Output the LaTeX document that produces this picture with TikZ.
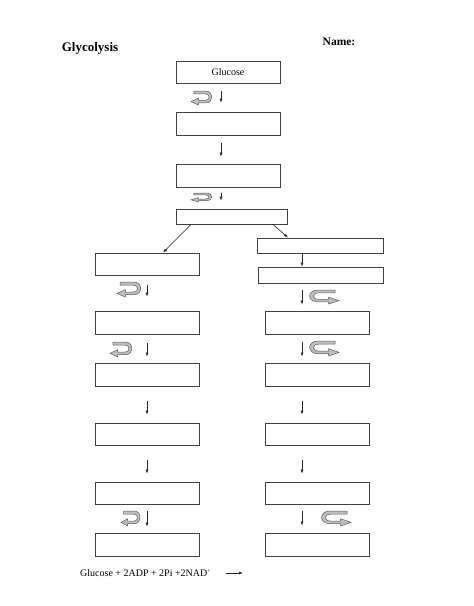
\documentclass[tikz,border=0pt]{standalone}
\usepackage{fontspec}
\setmainfont{Liberation Serif}
\usetikzlibrary{positioning, calc, arrows.meta}

\tikzset{
  uturn/.pic={
    \draw[turnline] (3,0) -- (16,0) .. controls (25,0) and (25,14) .. (16,14)
      -- (8,14) -- (8,16.5) -- (0,12.5) -- (8,8.5) -- (8,11) -- (16,11)
      .. controls (21,11) and (21,3.5) .. (16,3.5) -- (3,3.5) -- cycle;
  }
}

\begin{document}
\begin{tikzpicture}[x=1pt, y=-1pt, >={Latex[length=4pt,width=3pt]}]
        \tikzstyle{box}=[draw=black!75, line width=.8pt, rectangle, minimum width=104pt, minimum height=23pt, inner sep=0pt];
        \tikzstyle{flow}=[->, black!85, line width=.6pt];
        \tikzstyle{turnline}=[draw=black!65, fill=black!25, line width=.5pt];
        \useasboundingbox (0,0) rectangle (474,606);

        \node[font=\bfseries\fontsize{13}{15}\selectfont] (title) at (90,48) {Glycolysis};
        \node[font=\bfseries\fontsize{11.5}{14}\selectfont] (name) at (339,42) {Name:};

        \node[box, minimum height=22pt] (glc) at (228,72) {Glucose};
        \node[box] (s2) at (228,123.5) {};
        \node[box] (s3) at (228,175.5) {};
        \node[box, minimum width=111pt, minimum height=15pt] (s4) at (231.5,216.5) {};

        \node[box, minimum height=22pt] (l1) at (147,264) {};
        \node[box] (l2) at (147,322.5) {};
        \node[box] (l3) at (147,374.5) {};
        \node[box, minimum height=22pt] (l4) at (147,434) {};
        \node[box, minimum height=22pt] (l5) at (147,493) {};
        \node[box] (l6) at (147,544.5) {};

        \node[box, minimum width=126pt, minimum height=15pt] (r1) at (320,245.5) {};
        \node[box, minimum width=125pt, minimum height=16pt] (r2) at (320.5,275) {};
        \node[box] (r3) at (317,322.5) {};
        \node[box] (r4) at (317,374.5) {};
        \node[box, minimum height=22pt] (r5) at (317,434) {};
        \node[box, minimum height=22pt] (r6) at (317,493) {};
        \node[box] (r7) at (317,544.5) {};

        \node[anchor=west, inner sep=0pt] (eq) at (80,573) {Glucose + 2ADP + 2Pi +2NAD\textsuperscript{\tiny +}};
        \coordinate (prod) at (243,573);

        % main column
        \draw[flow, shorten <=8pt, shorten >=9pt] ([xshift=-7pt]glc.south) -- ([xshift=-7pt]s2.north);
        \draw[flow, shorten <=8pt, shorten >=7pt] ([xshift=-7pt]s2.south) -- ([xshift=-7pt]s3.north);
        \draw[flow, shorten <=6pt, shorten >=8pt] ([xshift=-7pt]s3.south) -- ([xshift=-7pt]s3.south |- s4.north);
        \pic[xscale=22/24, yscale=14/16.5] at (191,91) {uturn};
        \pic[xscale=22/24, yscale=9/16.5] at (191,193) {uturn};

        % split
        \draw[flow] ([xshift=-40.5pt]s4.south) -- ([xshift=16pt]l1.north);
        \draw[flow] ([xshift=41.5pt]s4.south) -- ([xshift=-32pt]r1.north);
        \draw[flow] ([xshift=-18pt]r1.south) -- ([xshift=-18.5pt]r2.north);

        % left branch
        \draw[flow, shorten <=10pt, shorten >=14pt] (l1) -- (l2);
        \draw[flow, shorten <=9pt, shorten >=6pt] (l2) -- (l3);
        \draw[flow, shorten <=15pt, shorten >=8pt] (l3) -- (l4);
        \draw[flow, shorten <=15pt, shorten >=8pt] (l4) -- (l5);
        \draw[flow, shorten <=7pt, shorten >=6pt] (l5) -- (l6);
        \pic[xscale=25/24, yscale=15/16.5] at (117,282) {uturn};
        \pic[xscale=23/24, yscale=15/16.5] at (110,342) {uturn};
        \pic[xscale=20/24, yscale=15/16.5] at (121,511) {uturn};

        % right branch
        \draw[flow, shorten <=7pt, shorten >=6pt] ([xshift=-15pt]r2.south -| r3) -- ([xshift=-15pt]r3.north);
        \draw[flow, shorten <=8pt, shorten >=6pt] ([xshift=-15pt]r3.south) -- ([xshift=-15pt]r4.north);
        \draw[flow, shorten <=15pt, shorten >=8pt] ([xshift=-15pt]r4.south) -- ([xshift=-15pt]r5.north);
        \draw[flow, shorten <=15pt, shorten >=8pt] ([xshift=-15pt]r5.south) -- ([xshift=-15pt]r6.north);
        \draw[flow, shorten <=7pt, shorten >=7pt] ([xshift=-15pt]r6.south) -- ([xshift=-15pt]r7.north);
        \pic[xscale=-31/24, yscale=14/16.5] at (339,290) {uturn};
        \pic[xscale=-31/24, yscale=15/16.5] at (339,341) {uturn};
        \pic[xscale=-31/24, yscale=15/16.5] at (351,511) {uturn};

        \draw[flow] ([xshift=15pt]eq.east) -- (prod);
\end{tikzpicture}
\end{document}
